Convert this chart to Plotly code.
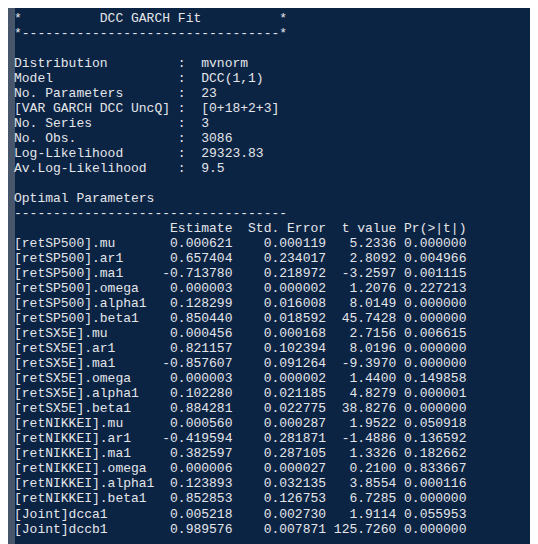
import plotly.graph_objects as go

W, H = 538, 544
BG = "#0c2444"
FG = "#e4e6ea"

title = "DCC GARCH Fit"
info_labels = ["Distribution", "Model", "No. Parameters", "[VAR GARCH DCC UncQ]",
               "No. Series", "No. Obs.", "Log-Likelihood", "Av.Log-Likelihood"]
info_values = ["mvnorm", "DCC(1,1)", "23", "[0+18+2+3]", "3", "3086", "29323.83", "9.5"]

param_names = ["[retSP500].mu", "[retSP500].ar1", "[retSP500].ma1", "[retSP500].omega",
               "[retSP500].alpha1", "[retSP500].beta1",
               "[retSX5E].mu", "[retSX5E].ar1", "[retSX5E].ma1", "[retSX5E].omega",
               "[retSX5E].alpha1", "[retSX5E].beta1",
               "[retNIKKEI].mu", "[retNIKKEI].ar1", "[retNIKKEI].ma1", "[retNIKKEI].omega",
               "[retNIKKEI].alpha1", "[retNIKKEI].beta1",
               "[Joint]dcca1", "[Joint]dccb1"]
estimate = [0.000621, 0.657404, -0.713780, 0.000003, 0.128299, 0.850440,
            0.000456, 0.821157, -0.857607, 0.000003, 0.102280, 0.884281,
            0.000560, -0.419594, 0.382597, 0.000006, 0.123893, 0.852853,
            0.005218, 0.989576]
std_error = [0.000119, 0.234017, 0.218972, 0.000002, 0.016008, 0.018592,
             0.000168, 0.102394, 0.091264, 0.000002, 0.021185, 0.022775,
             0.000287, 0.281871, 0.287105, 0.000027, 0.032135, 0.126753,
             0.002730, 0.007871]
t_value = [5.2336, 2.8092, -3.2597, 1.2076, 8.0149, 45.7428,
           2.7156, 8.0196, -9.3970, 1.4400, 4.8279, 38.8276,
           1.9522, -1.4886, 1.3326, 0.2100, 3.8554, 6.7285,
           1.9114, 125.7260]
p_value = [0.000000, 0.004966, 0.001115, 0.227213, 0.000000, 0.000000,
           0.006615, 0.000000, 0.000000, 0.149858, 0.000001, 0.000000,
           0.050918, 0.136592, 0.182662, 0.833667, 0.000116, 0.000000,
           0.055953, 0.000000]

lines = []
lines.append("*" + "-" * 33 + "*")
lines.append("*" + " " * 10 + title + " " * 10 + "*")
lines.append("*" + "-" * 33 + "*")
lines.append("")
for lab, val in zip(info_labels, info_values):
    lines.append(lab.ljust(20) + " :  " + val)
lines.append("")
lines.append("Optimal Parameters")
lines.append("-" * 35)
lines.append(" " * 18 + " " + "Estimate".rjust(9) + "Std. Error".rjust(12)
             + "t value".rjust(9) + "Pr(>|t|)".rjust(9))
for n, e, s, t, p in zip(param_names, estimate, std_error, t_value, p_value):
    lines.append(n.ljust(18) + " " + f"{e:.6f}".rjust(9) + f"{s:.6f}".rjust(12)
                 + f"{t:.4f}".rjust(9) + f"{p:.6f}".rjust(9))

fig = go.Figure()
anns = []
for i, txt in enumerate(lines):
    if not txt:
        continue
    y = -5 + 15.03 * i
    anns.append(dict(x=4 / W, y=1 - y / H, xref="paper", yref="paper",
                     xanchor="left", yanchor="middle", showarrow=False,
                     text=txt.replace(" ", "\u00a0"),
                     font=dict(family="Liberation Mono, DejaVu Sans Mono, monospace",
                               size=13, color=FG)))
fig.update_layout(
    width=W, height=H, margin=dict(l=0, r=0, t=0, b=0),
    paper_bgcolor=BG, plot_bgcolor=BG,
    xaxis=dict(visible=False, range=[0, 1]), yaxis=dict(visible=False, range=[0, 1]),
    annotations=anns,
    shapes=[dict(type="rect", xref="paper", yref="paper", x0=0, x1=7 / W, y0=0, y1=1,
                 fillcolor="#47566a", line=dict(width=0), layer="below")],
)
fig.write_html("out.html")
